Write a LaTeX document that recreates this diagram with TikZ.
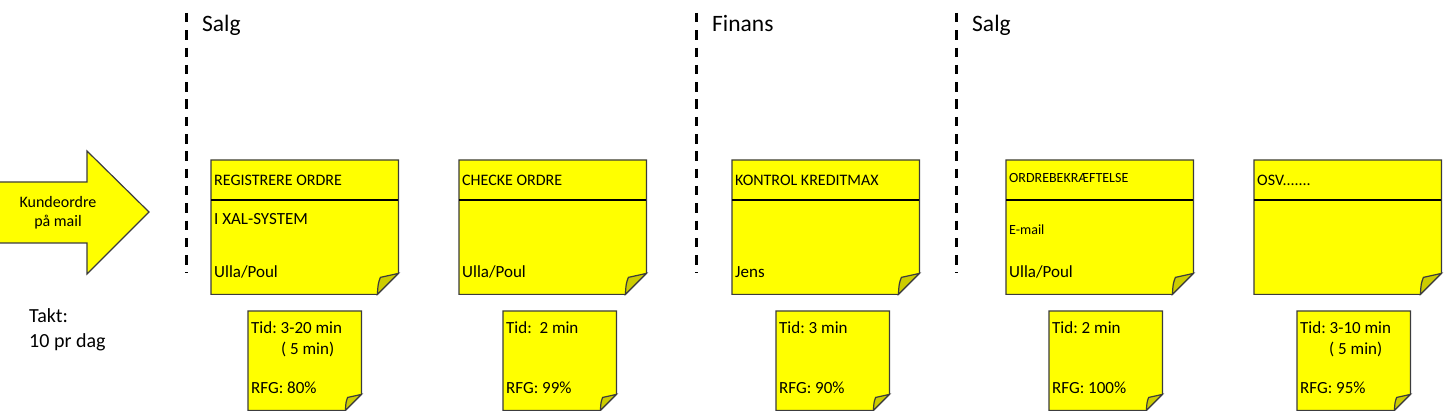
\documentclass[tikz,border=0pt]{standalone}
\usepackage{fontspec}
\setmainfont{Carlito}
\usetikzlibrary{positioning, calc}
\definecolor{noteyellow}{RGB}{255, 255, 0}
\definecolor{foldyellow}{RGB}{204, 204, 0}
\definecolor{edgegray}{RGB}{60, 60, 60}
\frenchspacing

\begin{document}
\begin{tikzpicture}[x=1pt, y=-1pt,
  bignote/.style={anchor=north west, inner sep=0pt, minimum width=187pt, minimum height=134pt},
  smallnote/.style={anchor=north west, inner sep=0pt, minimum width=113pt, minimum height=99pt},
  notetext/.style={anchor=base west, inner sep=0pt, font=\fontsize{17}{20}\selectfont},
  titletext/.style={notetext, font=\fontsize{16}{19}\selectfont},
  smalltext/.style={notetext, font=\fontsize{14}{17}\selectfont},
  lanetext/.style={anchor=base west, inner sep=0pt, font=\fontsize{23.5}{28}\selectfont},
  lane/.style={line width=3pt, dash pattern=on 9.5pt off 7.8pt},
  noteedge/.style={draw=edgegray, line width=1.2pt, fill=noteyellow}
]
  \useasboundingbox (0,0) rectangle (1453,411);

  % Swimlane borders
  \foreach \x in {186, 696, 956}
    \draw[lane] (\x,13) -- (\x,273);
  \node[lanetext] (salg1) at (202,32) {Salg};
  \node[lanetext] (finans) at (712,32) {Finans};
  \node[lanetext] (salg2) at (972,32) {Salg};

  % Incoming order
  \filldraw[noteedge] (0,182) -- (87,182) -- (87,151) -- (149,212) -- (87,274) -- (87,243) -- (0,243);
  \node[align=center, inner sep=0pt, font=\fontsize{16}{19}\selectfont] (order) at (58,213) {Kundeordre\\på mail};
  \node[anchor=north west, align=left, inner sep=0pt, font=\fontsize{20}{25}\selectfont] (takt) at (29,308) {Takt:\\10 pr dag};

  % Process notes
  \node[bignote] (reg) at (211,160) {};
  \node[bignote] (chk) at (459,160) {};
  \node[bignote] (krd) at (732,160) {};
  \node[bignote] (bek) at (1006,160) {};
  \node[bignote] (osv) at (1254,160) {};

  % Data notes
  \node[smallnote] (treg) at (248,311) {};
  \node[smallnote] (tchk) at (503,311) {};
  \node[smallnote] (tkrd) at (776,311) {};
  \node[smallnote] (tbek) at (1049,311) {};
  \node[smallnote] (tosv) at (1297,311) {};

  % Paper with folded corner
  \foreach \n/\c in {reg/21, chk/21, krd/21, bek/21, osv/21, treg/16, tchk/16, tkrd/16, tbek/16, tosv/16} {
    \draw[noteedge] (\n.north west) -- (\n.north east) -- ([yshift=\c*1pt]\n.south east)
      -- ([xshift=-\c*1pt]\n.south east) -- (\n.south west) -- cycle;
    \draw[noteedge, fill=foldyellow] ([xshift=-\c*1pt]\n.south east)
      .. controls ([xshift=-\c*0.97pt, yshift=\c*0.5pt]\n.south east) .. ([xshift=-\c*0.86pt, yshift=\c*0.81pt]\n.south east)
      -- ([yshift=\c*1pt]\n.south east) -- cycle;
  }
  \foreach \n in {reg, chk, krd, bek, osv}
    \draw[black, line width=1.8pt] ([yshift=-40pt]\n.north west) -- ([yshift=-40pt]\n.north east);

  % Note texts
  \node[titletext] (regtitle) at ([shift={(3,26)}]reg.north west) {REGISTRERE ORDRE};
  \node[notetext] (regsys) at ([shift={(3,65)}]reg.north west) {I XAL-SYSTEM};
  \node[notetext] (regwho) at ([shift={(3,118)}]reg.north west) {Ulla/Poul};
  \node[titletext] (chktitle) at ([shift={(3,26)}]chk.north west) {CHECKE ORDRE};
  \node[notetext] (chkwho) at ([shift={(3,118)}]chk.north west) {Ulla/Poul};
  \node[titletext] (krdtitle) at ([shift={(3,26)}]krd.north west) {KONTROL KREDITMAX};
  \node[notetext] (krdwho) at ([shift={(3,118)}]krd.north west) {Jens};
  \node[smalltext] (bektitle) at ([shift={(3,23)}]bek.north west) {ORDREBEKRÆFTELSE};
  \node[smalltext] (bekhow) at ([shift={(3,75)}]bek.north west) {E-mail};
  \node[notetext] (bekwho) at ([shift={(3,118)}]bek.north west) {Ulla/Poul};
  \node[titletext] (osvtitle) at ([shift={(3,26)}]osv.north west) {OSV.......};

  \node[notetext] (tregtid) at ([shift={(3,23)}]treg.north west) {Tid: 3-20 min};
  \node[notetext] (tregavg) at ([shift={(33,44)}]treg.north west) {( 5 min)};
  \node[notetext] (tregrfg) at ([shift={(3,82)}]treg.north west) {RFG: 80\%};
  \node[notetext] (tchktid) at ([shift={(3,23)}]tchk.north west) {Tid:\ \ 2 min};
  \node[notetext] (tchkrfg) at ([shift={(3,82)}]tchk.north west) {RFG: 99\%};
  \node[notetext] (tkrdtid) at ([shift={(3,23)}]tkrd.north west) {Tid: 3 min};
  \node[notetext] (tkrdrfg) at ([shift={(3,82)}]tkrd.north west) {RFG: 90\%};
  \node[notetext] (tbektid) at ([shift={(3,23)}]tbek.north west) {Tid: 2 min};
  \node[notetext] (tbekrfg) at ([shift={(3,82)}]tbek.north west) {RFG: 100\%};
  \node[notetext] (tosvtid) at ([shift={(3,23)}]tosv.north west) {Tid: 3-10 min};
  \node[notetext] (tosvavg) at ([shift={(32,44)}]tosv.north west) {( 5 min)};
  \node[notetext] (tosvrfg) at ([shift={(3,82)}]tosv.north west) {RFG: 95\%};
\end{tikzpicture}
\end{document}
